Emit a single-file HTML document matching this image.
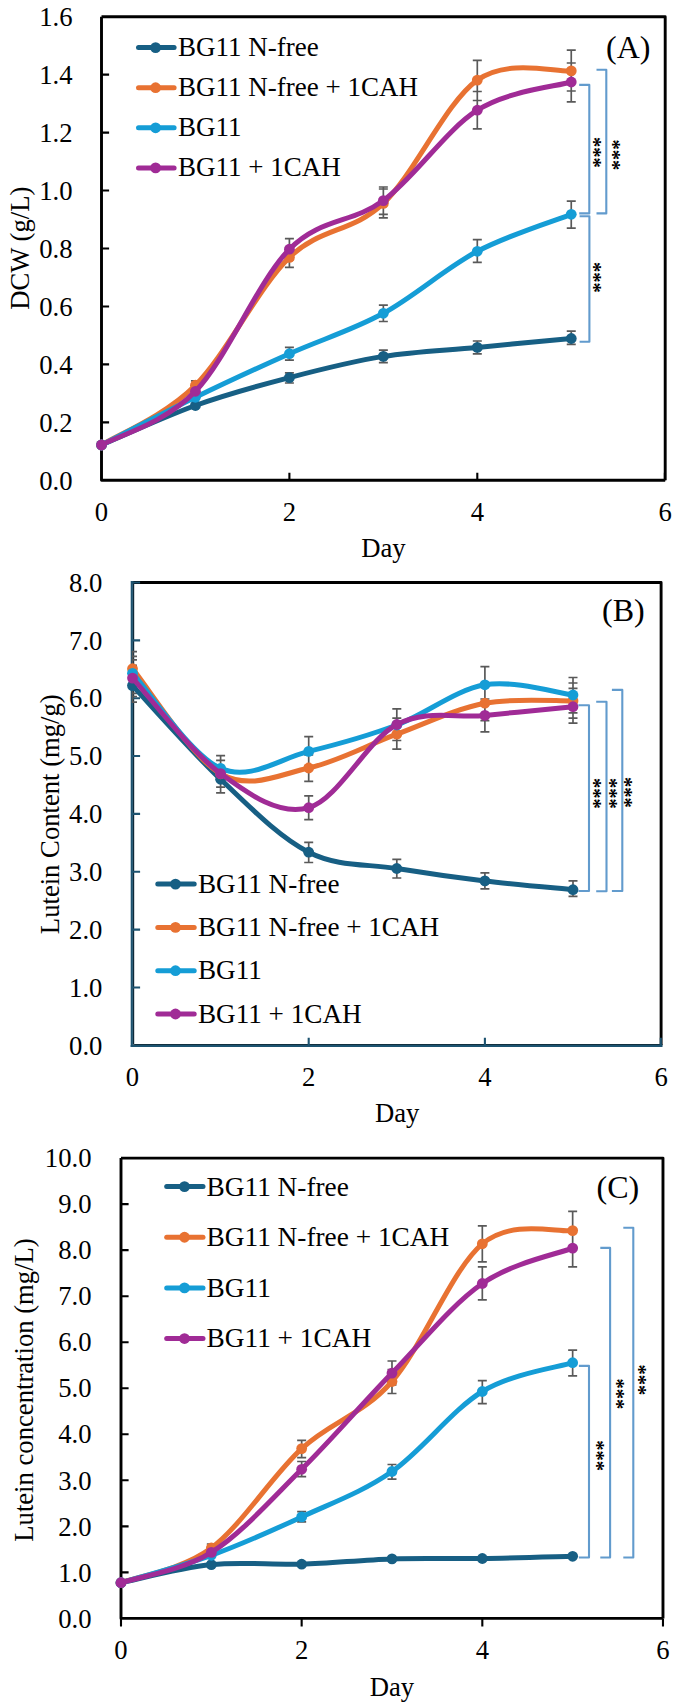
<!DOCTYPE html><html><head><meta charset="utf-8"><style>html,body{margin:0;padding:0;background:#fff;}svg{display:block}</style></head><body>
<svg width="685" height="1706" viewBox="0 0 685 1706" style="font-family:'Liberation Serif','Times New Roman',serif" fill="#000">
<path d="M101.5,16.7 H665.2 V480.3" stroke="#000" stroke-width="2.9" fill="none" stroke-linejoin="round"/>
<path d="M101.5,16.7 V480.3 H665.2" stroke="#000" stroke-width="2.9" fill="none" stroke-linejoin="round"/>
<path d="M101.5,422.35 h7.6 M101.5,364.4 h7.6 M101.5,306.45 h7.6 M101.5,248.5 h7.6 M101.5,190.55 h7.6 M101.5,132.6 h7.6 M101.5,74.65 h7.6 M289.4,480.3 v-7.6 M477.3,480.3 v-7.6 M664.9,480.3 v-7.6" stroke="#000" stroke-width="2.1" fill="none" stroke-linecap="butt"/>
<clipPath id="c101"><rect x="100.6" y="16.7" width="563.7" height="463.6"/></clipPath>
<path d="M195.45,380.8 V388.6 M190.95,380.8 h9 M190.95,388.6 h9 M289.4,372.9 V383 M284.9,372.9 h9 M284.9,383 h9 M289.4,347.3 V360.2 M284.9,347.3 h9 M284.9,360.2 h9 M289.4,247.4 V267.3 M284.9,247.4 h9 M284.9,267.3 h9 M289.4,238.7 V259.7 M284.9,238.7 h9 M284.9,259.7 h9 M383.35,350.1 V362.6 M378.85,350.1 h9 M378.85,362.6 h9 M383.35,305.1 V321.5 M378.85,305.1 h9 M378.85,321.5 h9 M383.35,189 V217.8 M378.85,189 h9 M378.85,217.8 h9 M383.35,187 V214.3 M378.85,187 h9 M378.85,214.3 h9 M477.3,341 V353.8 M472.8,341 h9 M472.8,353.8 h9 M477.3,239.6 V262.3 M472.8,239.6 h9 M472.8,262.3 h9 M477.3,60.3 V100.5 M472.8,60.3 h9 M472.8,100.5 h9 M477.3,91.5 V128.9 M472.8,91.5 h9 M472.8,128.9 h9 M571.25,331.2 V344.4 M566.75,331.2 h9 M566.75,344.4 h9 M571.25,201.2 V228.1 M566.75,201.2 h9 M566.75,228.1 h9 M571.25,50.1 V91 M566.75,50.1 h9 M566.75,91 h9 M571.25,63 V101.8 M566.75,63 h9 M566.75,101.8 h9" stroke="#595959" stroke-width="1.7" fill="none" clip-path="url(#c101)"/>
<path d="M101.5,445 C117.16,438.42 164.13,416.73 195.45,405.5 C226.77,394.27 258.08,385.78 289.4,377.6 C320.72,369.42 352.03,361.43 383.35,356.4 C414.67,351.37 445.98,350.38 477.3,347.4 C508.62,344.42 555.59,339.98 571.25,338.5" stroke="#175F84" stroke-width="5.0" fill="none" stroke-linecap="round" stroke-linejoin="round"/>
<g fill="#175F84"><circle cx="101.5" cy="445" r="5.4"/><circle cx="195.45" cy="405.5" r="5.4"/><circle cx="289.4" cy="377.6" r="5.4"/><circle cx="383.35" cy="356.4" r="5.4"/><circle cx="477.3" cy="347.4" r="5.4"/><circle cx="571.25" cy="338.5" r="5.4"/></g>
<path d="M101.5,445 C117.16,435.03 164.13,416.47 195.45,385.2 C226.77,353.93 258.08,287.7 289.4,257.4 C320.72,227.1 352.03,232.95 383.35,203.4 C414.67,173.85 445.98,102.18 477.3,80.1 C508.62,58.02 555.59,72.43 571.25,70.9" stroke="#E87232" stroke-width="5.0" fill="none" stroke-linecap="round" stroke-linejoin="round"/>
<g fill="#E87232"><circle cx="101.5" cy="445" r="5.4"/><circle cx="195.45" cy="385.2" r="5.4"/><circle cx="289.4" cy="257.4" r="5.4"/><circle cx="383.35" cy="203.4" r="5.4"/><circle cx="477.3" cy="80.1" r="5.4"/><circle cx="571.25" cy="70.9" r="5.4"/></g>
<path d="M101.5,445 C117.16,437.05 164.13,412.52 195.45,397.3 C226.77,382.08 258.08,367.7 289.4,353.7 C320.72,339.7 352.03,330.37 383.35,313.3 C414.67,296.23 445.98,267.8 477.3,251.3 C508.62,234.8 555.59,220.47 571.25,214.3" stroke="#159DD6" stroke-width="5.0" fill="none" stroke-linecap="round" stroke-linejoin="round"/>
<g fill="#159DD6"><circle cx="101.5" cy="445" r="5.4"/><circle cx="195.45" cy="397.3" r="5.4"/><circle cx="289.4" cy="353.7" r="5.4"/><circle cx="383.35" cy="313.3" r="5.4"/><circle cx="477.3" cy="251.3" r="5.4"/><circle cx="571.25" cy="214.3" r="5.4"/></g>
<path d="M101.5,445 C117.16,436.05 164.13,423.93 195.45,391.3 C226.77,358.67 258.08,280.98 289.4,249.2 C320.72,217.42 352.03,223.77 383.35,200.6 C414.67,177.43 445.98,129.97 477.3,110.2 C508.62,90.43 555.59,86.7 571.25,82" stroke="#A02B96" stroke-width="5.0" fill="none" stroke-linecap="round" stroke-linejoin="round"/>
<g fill="#A02B96"><circle cx="101.5" cy="445" r="5.4"/><circle cx="195.45" cy="391.3" r="5.4"/><circle cx="289.4" cy="249.2" r="5.4"/><circle cx="383.35" cy="200.6" r="5.4"/><circle cx="477.3" cy="110.2" r="5.4"/><circle cx="571.25" cy="82" r="5.4"/></g>
<path d="M579.2,84.9 H589.3 V213.4 H579.2 M596.5,69.7 H606.3 V213.4 H596.5 M579.6,216.3 H589.4 V341.8 H579.6" stroke="#629BCD" stroke-width="2.1" fill="none" stroke-linejoin="round"/>
<text x="597.2" y="162.5" font-size="20.5" font-weight="bold" text-anchor="middle" transform="rotate(90 597.2 152.3)">***</text>
<text x="616.4" y="165.1" font-size="20.5" font-weight="bold" text-anchor="middle" transform="rotate(90 616.4 154.9)">***</text>
<text x="597.4" y="287.6" font-size="20.5" font-weight="bold" text-anchor="middle" transform="rotate(90 597.4 277.4)">***</text>
<text x="72.5" y="489.5" font-size="26.67" text-anchor="end" >0.0</text>
<text x="72.5" y="431.55" font-size="26.67" text-anchor="end" >0.2</text>
<text x="72.5" y="373.6" font-size="26.67" text-anchor="end" >0.4</text>
<text x="72.5" y="315.65" font-size="26.67" text-anchor="end" >0.6</text>
<text x="72.5" y="257.7" font-size="26.67" text-anchor="end" >0.8</text>
<text x="72.5" y="199.75" font-size="26.67" text-anchor="end" >1.0</text>
<text x="72.5" y="141.8" font-size="26.67" text-anchor="end" >1.2</text>
<text x="72.5" y="83.85" font-size="26.67" text-anchor="end" >1.4</text>
<text x="72.5" y="25.9" font-size="26.67" text-anchor="end" >1.6</text>
<text x="101.5" y="520.5" font-size="26.67" text-anchor="middle" >0</text>
<text x="289.4" y="520.5" font-size="26.67" text-anchor="middle" >2</text>
<text x="477.3" y="520.5" font-size="26.67" text-anchor="middle" >4</text>
<text x="665.2" y="520.5" font-size="26.67" text-anchor="middle" >6</text>
<text x="383.4" y="557.2" font-size="26.67" text-anchor="middle" >Day</text>
<text x="29.5" y="248.2" font-size="26.67" text-anchor="middle" transform="rotate(-90 29.5 248.2)">DCW (g/L)</text>
<text x="606" y="57.7" font-size="32" text-anchor="start" >(A)</text>
<path d="M138.5,47.6 H174.1" stroke="#175F84" stroke-width="5.0" stroke-linecap="round"/>
<circle cx="155.6" cy="47.6" r="5.4" fill="#175F84"/>
<text x="178" y="55.9" font-size="27" text-anchor="start" >BG11 N-free</text>
<path d="M138.5,87.7 H174.1" stroke="#E87232" stroke-width="5.0" stroke-linecap="round"/>
<circle cx="155.6" cy="87.7" r="5.4" fill="#E87232"/>
<text x="178" y="96" font-size="27" text-anchor="start" >BG11 N-free + 1CAH</text>
<path d="M138.5,127.8 H174.1" stroke="#159DD6" stroke-width="5.0" stroke-linecap="round"/>
<circle cx="155.6" cy="127.8" r="5.4" fill="#159DD6"/>
<text x="178" y="136.1" font-size="27" text-anchor="start" >BG11</text>
<path d="M138.5,167.9 H174.1" stroke="#A02B96" stroke-width="5.0" stroke-linecap="round"/>
<circle cx="155.6" cy="167.9" r="5.4" fill="#A02B96"/>
<text x="178" y="176.2" font-size="27" text-anchor="start" >BG11 + 1CAH</text>
<path d="M132.5,582.5 H661.1 V1045.3" stroke="#000" stroke-width="2.9" fill="none" stroke-linejoin="round"/>
<path d="M133.45,581.1 V1044.8" stroke="#0F2A3A" stroke-width="1.5" fill="none"/>
<path d="M134.1,1044.45 H662.5" stroke="#13303F" stroke-width="1.1" fill="none"/>
<path d="M131.8,581.1 V1046.9" stroke="#1D5370" stroke-width="2.2" fill="none"/>
<path d="M130.7,1045.9 H662.5" stroke="#1D5370" stroke-width="2.0" fill="none"/>
<path d="M132.5,987.45 h7.6 M132.5,929.6 h7.6 M132.5,871.75 h7.6 M132.5,813.9 h7.6 M132.5,756.05 h7.6 M132.5,698.2 h7.6 M132.5,640.35 h7.6 M132.5,582.5 h7.6 M308.7,1045.3 v-7.6 M484.9,1045.3 v-7.6 M660.8,1045.3 v-7.6" stroke="#1D5370" stroke-width="2.1" fill="none" stroke-linecap="butt"/>
<clipPath id="c132"><rect x="131.6" y="582.5" width="528.6" height="462.8"/></clipPath>
<path d="M132.5,651.6 V685.8 M128,651.6 h9 M128,685.8 h9 M132.5,656.4 V693.4 M128,656.4 h9 M128,693.4 h9 M132.5,659.9 V696.5 M128,659.9 h9 M128,696.5 h9 M132.5,665.4 V702.2 M128,665.4 h9 M128,702.2 h9 M220.6,755.7 V781.1 M216.1,755.7 h9 M216.1,781.1 h9 M220.6,760.3 V787.2 M216.1,760.3 h9 M216.1,787.2 h9 M220.6,767.5 V792.9 M216.1,767.5 h9 M216.1,792.9 h9 M308.7,842.3 V862.5 M304.2,842.3 h9 M304.2,862.5 h9 M308.7,736.7 V766 M304.2,736.7 h9 M304.2,766 h9 M308.7,755 V781.4 M304.2,755 h9 M304.2,781.4 h9 M308.7,795.8 V819.7 M304.2,795.8 h9 M304.2,819.7 h9 M396.8,859.4 V878 M392.3,859.4 h9 M392.3,878 h9 M396.8,708.8 V740.5 M392.3,708.8 h9 M392.3,740.5 h9 M396.8,718.1 V749.1 M392.3,718.1 h9 M392.3,749.1 h9 M484.9,872.8 V888.9 M480.4,872.8 h9 M480.4,888.9 h9 M484.9,666.6 V703 M480.4,666.6 h9 M480.4,703 h9 M484.9,685.7 V720.7 M480.4,685.7 h9 M480.4,720.7 h9 M484.9,699 V731.8 M480.4,699 h9 M480.4,731.8 h9 M573,880.9 V896.4 M568.5,880.9 h9 M568.5,896.4 h9 M573,677.5 V712.8 M568.5,677.5 h9 M568.5,712.8 h9 M573,683 V718.1 M568.5,683 h9 M568.5,718.1 h9 M573,688.4 V723.1 M568.5,688.4 h9 M568.5,723.1 h9" stroke="#595959" stroke-width="1.7" fill="none" clip-path="url(#c132)"/>
<path d="M132.5,685.6 C147.18,701.22 191.23,751.53 220.6,779.3 C249.97,807.07 279.33,837.33 308.7,852.2 C338.07,867.07 367.43,863.72 396.8,868.5 C426.17,873.28 455.53,877.37 484.9,880.9 C514.27,884.43 558.32,888.23 573,889.7" stroke="#175F84" stroke-width="5.0" fill="none" stroke-linecap="round" stroke-linejoin="round"/>
<g fill="#175F84"><circle cx="132.5" cy="685.6" r="5.4"/><circle cx="220.6" cy="779.3" r="5.4"/><circle cx="308.7" cy="852.2" r="5.4"/><circle cx="396.8" cy="868.5" r="5.4"/><circle cx="484.9" cy="880.9" r="5.4"/><circle cx="573" cy="889.7" r="5.4"/></g>
<path d="M132.5,668.7 C147.18,686.22 191.23,757.25 220.6,773.8 C249.97,790.35 279.33,774.6 308.7,768 C338.07,761.4 367.43,745 396.8,734.2 C426.17,723.4 455.53,708.75 484.9,703.2 C514.27,697.65 558.32,701.28 573,700.9" stroke="#E87232" stroke-width="5.0" fill="none" stroke-linecap="round" stroke-linejoin="round"/>
<g fill="#E87232"><circle cx="132.5" cy="668.7" r="5.4"/><circle cx="220.6" cy="773.8" r="5.4"/><circle cx="308.7" cy="768" r="5.4"/><circle cx="396.8" cy="734.2" r="5.4"/><circle cx="484.9" cy="703.2" r="5.4"/><circle cx="573" cy="700.9" r="5.4"/></g>
<path d="M132.5,673.3 C147.18,689.15 191.23,755.38 220.6,768.4 C249.97,781.42 279.33,758.63 308.7,751.4 C338.07,744.17 367.43,736.1 396.8,725 C426.17,713.9 455.53,689.8 484.9,684.8 C514.27,679.8 558.32,693.3 573,695" stroke="#159DD6" stroke-width="5.0" fill="none" stroke-linecap="round" stroke-linejoin="round"/>
<g fill="#159DD6"><circle cx="132.5" cy="673.3" r="5.4"/><circle cx="220.6" cy="768.4" r="5.4"/><circle cx="308.7" cy="751.4" r="5.4"/><circle cx="396.8" cy="725" r="5.4"/><circle cx="484.9" cy="684.8" r="5.4"/><circle cx="573" cy="695" r="5.4"/></g>
<path d="M132.5,678.1 C147.18,694.02 191.23,752 220.6,773.6 C249.97,795.2 279.33,815.88 308.7,807.7 C338.07,799.52 367.43,739.88 396.8,724.5 C426.17,709.12 455.53,718.37 484.9,715.4 C514.27,712.43 558.32,708.15 573,706.7" stroke="#A02B96" stroke-width="5.0" fill="none" stroke-linecap="round" stroke-linejoin="round"/>
<g fill="#A02B96"><circle cx="132.5" cy="678.1" r="5.4"/><circle cx="220.6" cy="773.6" r="5.4"/><circle cx="308.7" cy="807.7" r="5.4"/><circle cx="396.8" cy="724.5" r="5.4"/><circle cx="484.9" cy="715.4" r="5.4"/><circle cx="573" cy="706.7" r="5.4"/></g>
<path d="M578.4,705.3 H589 V891 H578.4 M596.2,701.7 H606.5 V891.2 H596.2 M611.9,689.9 H622.3 V891 H611.9" stroke="#629BCD" stroke-width="2.1" fill="none" stroke-linejoin="round"/>
<text x="597.2" y="803.6" font-size="20.5" font-weight="bold" text-anchor="middle" transform="rotate(90 597.2 793.4)">***</text>
<text x="613.3" y="803.6" font-size="20.5" font-weight="bold" text-anchor="middle" transform="rotate(90 613.3 793.4)">***</text>
<text x="628.3" y="802.5" font-size="20.5" font-weight="bold" text-anchor="middle" transform="rotate(90 628.3 792.3)">***</text>
<text x="102.4" y="1054.5" font-size="26.67" text-anchor="end" >0.0</text>
<text x="102.4" y="996.65" font-size="26.67" text-anchor="end" >1.0</text>
<text x="102.4" y="938.8" font-size="26.67" text-anchor="end" >2.0</text>
<text x="102.4" y="880.95" font-size="26.67" text-anchor="end" >3.0</text>
<text x="102.4" y="823.1" font-size="26.67" text-anchor="end" >4.0</text>
<text x="102.4" y="765.25" font-size="26.67" text-anchor="end" >5.0</text>
<text x="102.4" y="707.4" font-size="26.67" text-anchor="end" >6.0</text>
<text x="102.4" y="649.55" font-size="26.67" text-anchor="end" >7.0</text>
<text x="102.4" y="591.7" font-size="26.67" text-anchor="end" >8.0</text>
<text x="132.5" y="1085.7" font-size="26.67" text-anchor="middle" >0</text>
<text x="308.7" y="1085.7" font-size="26.67" text-anchor="middle" >2</text>
<text x="484.9" y="1085.7" font-size="26.67" text-anchor="middle" >4</text>
<text x="661.1" y="1085.7" font-size="26.67" text-anchor="middle" >6</text>
<text x="397.1" y="1121.8" font-size="26.67" text-anchor="middle" >Day</text>
<text x="59" y="814.2" font-size="26.67" text-anchor="middle" transform="rotate(-90 59 814.2)">Lutein Content (mg/g)</text>
<text x="602" y="620.7" font-size="32" text-anchor="start" >(B)</text>
<path d="M157.8,884.1 H194.2" stroke="#175F84" stroke-width="5.0" stroke-linecap="round"/>
<circle cx="175.5" cy="884.1" r="5.4" fill="#175F84"/>
<text x="198" y="892.8" font-size="27.15" text-anchor="start" >BG11 N-free</text>
<path d="M157.8,927.4 H194.2" stroke="#E87232" stroke-width="5.0" stroke-linecap="round"/>
<circle cx="175.5" cy="927.4" r="5.4" fill="#E87232"/>
<text x="198" y="936.1" font-size="27.15" text-anchor="start" >BG11 N-free + 1CAH</text>
<path d="M157.8,970.7 H194.2" stroke="#159DD6" stroke-width="5.0" stroke-linecap="round"/>
<circle cx="175.5" cy="970.7" r="5.4" fill="#159DD6"/>
<text x="198" y="979.4" font-size="27.15" text-anchor="start" >BG11</text>
<path d="M157.8,1014 H194.2" stroke="#A02B96" stroke-width="5.0" stroke-linecap="round"/>
<circle cx="175.5" cy="1014" r="5.4" fill="#A02B96"/>
<text x="198" y="1022.7" font-size="27.15" text-anchor="start" >BG11 + 1CAH</text>
<path d="M121,1158.1 H662.98 V1618.4" stroke="#000" stroke-width="2.9" fill="none" stroke-linejoin="round"/>
<path d="M121,1158.1 V1618.4 H662.98" stroke="#000" stroke-width="2.9" fill="none" stroke-linejoin="round"/>
<path d="M121,1572.37 h7.6 M121,1526.34 h7.6 M121,1480.31 h7.6 M121,1434.28 h7.6 M121,1388.25 h7.6 M121,1342.22 h7.6 M121,1296.19 h7.6 M121,1250.16 h7.6 M121,1204.13 h7.6 M121,1618.4 v8 M301.66,1618.4 v8 M482.32,1618.4 v8 M662.98,1618.4 v8" stroke="#000" stroke-width="2.1" fill="none" stroke-linecap="butt"/>
<clipPath id="c121"><rect x="120.1" y="1158.1" width="541.98" height="460.3"/></clipPath>
<path d="M211.33,1544 V1552 M206.83,1544 h9 M206.83,1552 h9 M301.66,1440.4 V1457.7 M297.16,1440.4 h9 M297.16,1457.7 h9 M301.66,1461.5 V1476.7 M297.16,1461.5 h9 M297.16,1476.7 h9 M301.66,1511.6 V1521.8 M297.16,1511.6 h9 M297.16,1521.8 h9 M391.99,1361 V1385 M387.49,1361 h9 M387.49,1385 h9 M391.99,1369.5 V1393.5 M387.49,1369.5 h9 M387.49,1393.5 h9 M391.99,1464.5 V1479.1 M387.49,1464.5 h9 M387.49,1479.1 h9 M482.32,1225.8 V1261.8 M477.82,1225.8 h9 M477.82,1261.8 h9 M482.32,1266.8 V1299.9 M477.82,1266.8 h9 M477.82,1299.9 h9 M482.32,1380.6 V1403.7 M477.82,1380.6 h9 M477.82,1403.7 h9 M572.65,1211.3 V1250 M568.15,1211.3 h9 M568.15,1250 h9 M572.65,1229.4 V1266.8 M568.15,1229.4 h9 M568.15,1266.8 h9 M572.65,1350.1 V1375.9 M568.15,1350.1 h9 M568.15,1375.9 h9" stroke="#595959" stroke-width="1.7" fill="none" clip-path="url(#c121)"/>
<path d="M121,1582.7 C136.06,1579.68 181.22,1567.68 211.33,1564.6 C241.44,1561.52 271.55,1565.15 301.66,1564.2 C331.77,1563.25 361.88,1559.85 391.99,1558.9 C422.1,1557.95 452.21,1558.93 482.32,1558.5 C512.43,1558.07 557.6,1556.67 572.65,1556.3" stroke="#175F84" stroke-width="5.0" fill="none" stroke-linecap="round" stroke-linejoin="round"/>
<g fill="#175F84"><circle cx="121" cy="1582.7" r="5.4"/><circle cx="211.33" cy="1564.6" r="5.4"/><circle cx="301.66" cy="1564.2" r="5.4"/><circle cx="391.99" cy="1558.9" r="5.4"/><circle cx="482.32" cy="1558.5" r="5.4"/><circle cx="572.65" cy="1556.3" r="5.4"/></g>
<path d="M121,1582.7 C136.06,1576.92 181.22,1570.35 211.33,1548 C241.44,1525.65 271.55,1476.35 301.66,1448.6 C331.77,1420.85 361.88,1415.63 391.99,1381.5 C422.1,1347.37 452.21,1268.95 482.32,1243.8 C512.43,1218.65 557.6,1232.8 572.65,1230.6" stroke="#E87232" stroke-width="5.0" fill="none" stroke-linecap="round" stroke-linejoin="round"/>
<g fill="#E87232"><circle cx="121" cy="1582.7" r="5.4"/><circle cx="211.33" cy="1548" r="5.4"/><circle cx="301.66" cy="1448.6" r="5.4"/><circle cx="391.99" cy="1381.5" r="5.4"/><circle cx="482.32" cy="1243.8" r="5.4"/><circle cx="572.65" cy="1230.6" r="5.4"/></g>
<path d="M121,1582.7 C136.06,1578.13 181.22,1566.27 211.33,1555.3 C241.44,1544.33 271.55,1530.87 301.66,1516.9 C331.77,1502.93 361.88,1492.4 391.99,1471.5 C422.1,1450.6 452.21,1409.63 482.32,1391.5 C512.43,1373.37 557.6,1367.5 572.65,1362.7" stroke="#159DD6" stroke-width="5.0" fill="none" stroke-linecap="round" stroke-linejoin="round"/>
<g fill="#159DD6"><circle cx="121" cy="1582.7" r="5.4"/><circle cx="211.33" cy="1555.3" r="5.4"/><circle cx="301.66" cy="1516.9" r="5.4"/><circle cx="391.99" cy="1471.5" r="5.4"/><circle cx="482.32" cy="1391.5" r="5.4"/><circle cx="572.65" cy="1362.7" r="5.4"/></g>
<path d="M121,1582.7 C136.06,1577.65 181.22,1571.3 211.33,1552.4 C241.44,1533.5 271.55,1499.18 301.66,1469.3 C331.77,1439.42 361.88,1404.07 391.99,1373.1 C422.1,1342.13 452.21,1304.33 482.32,1283.5 C512.43,1262.67 557.6,1254 572.65,1248.1" stroke="#A02B96" stroke-width="5.0" fill="none" stroke-linecap="round" stroke-linejoin="round"/>
<g fill="#A02B96"><circle cx="121" cy="1582.7" r="5.4"/><circle cx="211.33" cy="1552.4" r="5.4"/><circle cx="301.66" cy="1469.3" r="5.4"/><circle cx="391.99" cy="1373.1" r="5.4"/><circle cx="482.32" cy="1283.5" r="5.4"/><circle cx="572.65" cy="1248.1" r="5.4"/></g>
<path d="M578.9,1365.9 H589 V1557.5 H578.9 M600.3,1247.9 H610.1 V1557.5 H600.3 M623.3,1227.8 H633.3 V1557.5 H623.3" stroke="#629BCD" stroke-width="2.1" fill="none" stroke-linejoin="round"/>
<text x="600.3" y="1465.8" font-size="20.5" font-weight="bold" text-anchor="middle" transform="rotate(90 600.3 1455.6)">***</text>
<text x="620.6" y="1404" font-size="20.5" font-weight="bold" text-anchor="middle" transform="rotate(90 620.6 1393.8)">***</text>
<text x="641.7" y="1390.2" font-size="20.5" font-weight="bold" text-anchor="middle" transform="rotate(90 641.7 1380)">***</text>
<text x="91.5" y="1627.6" font-size="26.67" text-anchor="end" >0.0</text>
<text x="91.5" y="1581.57" font-size="26.67" text-anchor="end" >1.0</text>
<text x="91.5" y="1535.54" font-size="26.67" text-anchor="end" >2.0</text>
<text x="91.5" y="1489.51" font-size="26.67" text-anchor="end" >3.0</text>
<text x="91.5" y="1443.48" font-size="26.67" text-anchor="end" >4.0</text>
<text x="91.5" y="1397.45" font-size="26.67" text-anchor="end" >5.0</text>
<text x="91.5" y="1351.42" font-size="26.67" text-anchor="end" >6.0</text>
<text x="91.5" y="1305.39" font-size="26.67" text-anchor="end" >7.0</text>
<text x="91.5" y="1259.36" font-size="26.67" text-anchor="end" >8.0</text>
<text x="91.5" y="1213.33" font-size="26.67" text-anchor="end" >9.0</text>
<text x="91.5" y="1167.3" font-size="26.67" text-anchor="end" >10.0</text>
<text x="121" y="1658.6" font-size="26.67" text-anchor="middle" >0</text>
<text x="301.66" y="1658.6" font-size="26.67" text-anchor="middle" >2</text>
<text x="482.32" y="1658.6" font-size="26.67" text-anchor="middle" >4</text>
<text x="662.98" y="1658.6" font-size="26.67" text-anchor="middle" >6</text>
<text x="392" y="1695.8" font-size="26.67" text-anchor="middle" >Day</text>
<text x="32.5" y="1390" font-size="26.67" text-anchor="middle" transform="rotate(-90 32.5 1390)">Lutein concentration (mg/L)</text>
<text x="596.5" y="1198.2" font-size="32" text-anchor="start" >(C)</text>
<path d="M166.7,1186.6 H203" stroke="#175F84" stroke-width="5.0" stroke-linecap="round"/>
<circle cx="184.5" cy="1186.6" r="5.4" fill="#175F84"/>
<text x="206.6" y="1195.5" font-size="27.3" text-anchor="start" >BG11 N-free</text>
<path d="M166.7,1237.25 H203" stroke="#E87232" stroke-width="5.0" stroke-linecap="round"/>
<circle cx="184.5" cy="1237.25" r="5.4" fill="#E87232"/>
<text x="206.6" y="1246.15" font-size="27.3" text-anchor="start" >BG11 N-free + 1CAH</text>
<path d="M166.7,1287.9 H203" stroke="#159DD6" stroke-width="5.0" stroke-linecap="round"/>
<circle cx="184.5" cy="1287.9" r="5.4" fill="#159DD6"/>
<text x="206.6" y="1296.8" font-size="27.3" text-anchor="start" >BG11</text>
<path d="M166.7,1338.55 H203" stroke="#A02B96" stroke-width="5.0" stroke-linecap="round"/>
<circle cx="184.5" cy="1338.55" r="5.4" fill="#A02B96"/>
<text x="206.6" y="1347.45" font-size="27.3" text-anchor="start" >BG11 + 1CAH</text>
</svg></body></html>
